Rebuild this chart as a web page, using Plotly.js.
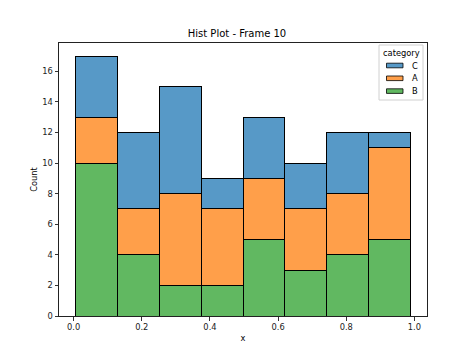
<!DOCTYPE html>
<html>
<head>
<meta charset="utf-8">
<script src="https://cdn.plot.ly/plotly-3.0.1.min.js"></script>
<style>html,body{margin:0;padding:0;background:#fff;}#chart{width:474px;height:355px;}</style>
</head>
<body>
<div id="chart"></div>
<script>
const binEdges = [0.006, 0.129, 0.251, 0.374, 0.497, 0.620, 0.742, 0.865, 0.988];
const countB = [10, 4, 2, 2, 5, 3, 4, 5];
const countA = [3, 3, 6, 5, 4, 4, 4, 6];
const countC = [4, 5, 7, 2, 4, 3, 4, 1];
const xTicks = [0, 0.2, 0.4, 0.6, 0.8, 1.0];
const yTicks = [0, 2, 4, 6, 8, 10, 12, 14, 16];
const legendNames = ['C', 'A', 'B'];

const colors = {
  B: 'rgba(44,160,44,0.75)',
  A: 'rgba(255,127,14,0.75)',
  C: 'rgba(31,119,180,0.75)'
};

const centers = binEdges.slice(0, -1).map((e, i) => (e + binEdges[i + 1]) / 2);
const widths = binEdges.slice(0, -1).map((e, i) => binEdges[i + 1] - e);

function tr(name, y) {
  return {
    type: 'bar', name: name, x: centers, y: y, width: widths,
    marker: {color: colors[name], line: {color: '#000', width: 1}},
    showlegend: false
  };
}
const data = [tr('B', countB), tr('A', countA), tr('C', countC)];

// plot-area geometry in pixels (for the hand-drawn legend)
const W = 474, H = 355, L = 59, R = 47, T = 43, B = 39;
const pw = W - L - R, ph = H - T - B;
const px = x => (x - L) / pw;
const py = y => 1 - (y - T) / ph;

const fam = 'DejaVu Sans, sans-serif';
const fs = 8.3;
const shapes = [{
  type: 'rect', xref: 'paper', yref: 'paper',
  x0: px(379), x1: px(423), y0: py(45), y1: py(100),
  fillcolor: 'rgba(255,255,255,0.8)', line: {color: '#d0d0d0', width: 1}, layer: 'above'
}];
const annotations = [{
  xref: 'paper', yref: 'paper', x: px(401), y: py(53.5), text: 'category',
  showarrow: false, xanchor: 'center', yanchor: 'middle', font: {family: fam, size: fs, color: '#000'}
}];
legendNames.forEach((n, i) => {
  const cy = 65.5 + i * 12.8;
  shapes.push({
    type: 'rect', xref: 'paper', yref: 'paper',
    x0: px(386.5), x1: px(403), y0: py(cy + 2.3), y1: py(cy - 2.3),
    fillcolor: colors[n], line: {color: '#000', width: 0.8}, layer: 'above'
  });
  annotations.push({
    xref: 'paper', yref: 'paper', x: px(410), y: py(cy), text: n,
    showarrow: false, xanchor: 'left', yanchor: 'middle', font: {family: fam, size: fs, color: '#000'}
  });
});

const layout = {
  width: W, height: H,
  margin: {l: L, r: R, t: T, b: B, pad: 0},
  paper_bgcolor: '#fff', plot_bgcolor: '#fff',
  barmode: 'stack', bargap: 0,
  font: {family: fam, size: fs, color: '#000'},
  showlegend: false,
  title: {text: 'Hist Plot - Frame 10', font: {family: fam, size: 10, color: '#000'}, x: 0.5, xanchor: 'center', y: 1 - 33.5 / H, yanchor: 'middle'},
  xaxis: {
    range: [-0.043, 1.037], tickvals: xTicks, ticktext: xTicks.map(v => v.toFixed(1)),
    ticks: 'outside', ticklen: 3.5, tickwidth: 0.8, tickcolor: '#000',
    showline: true, linecolor: '#222', linewidth: 1, mirror: true,
    showgrid: false, zeroline: false, tickfont: {family: fam, size: fs, color: '#222'},
    title: {text: 'x', font: {family: fam, size: fs, color: '#000'}, standoff: 3}
  },
  yaxis: {
    range: [0, 17.85], tickvals: yTicks,
    ticks: 'outside', ticklen: 3.5, tickwidth: 0.8, tickcolor: '#000',
    showline: true, linecolor: '#222', linewidth: 1, mirror: true,
    showgrid: false, zeroline: false, tickfont: {family: fam, size: fs, color: '#222'},
    title: {text: 'Count', font: {family: fam, size: fs, color: '#000'}, standoff: 3}
  },
  shapes: shapes,
  annotations: annotations
};
Plotly.newPlot('chart', data, layout, {displayModeBar: false, staticPlot: true});
</script>
</body>
</html>
